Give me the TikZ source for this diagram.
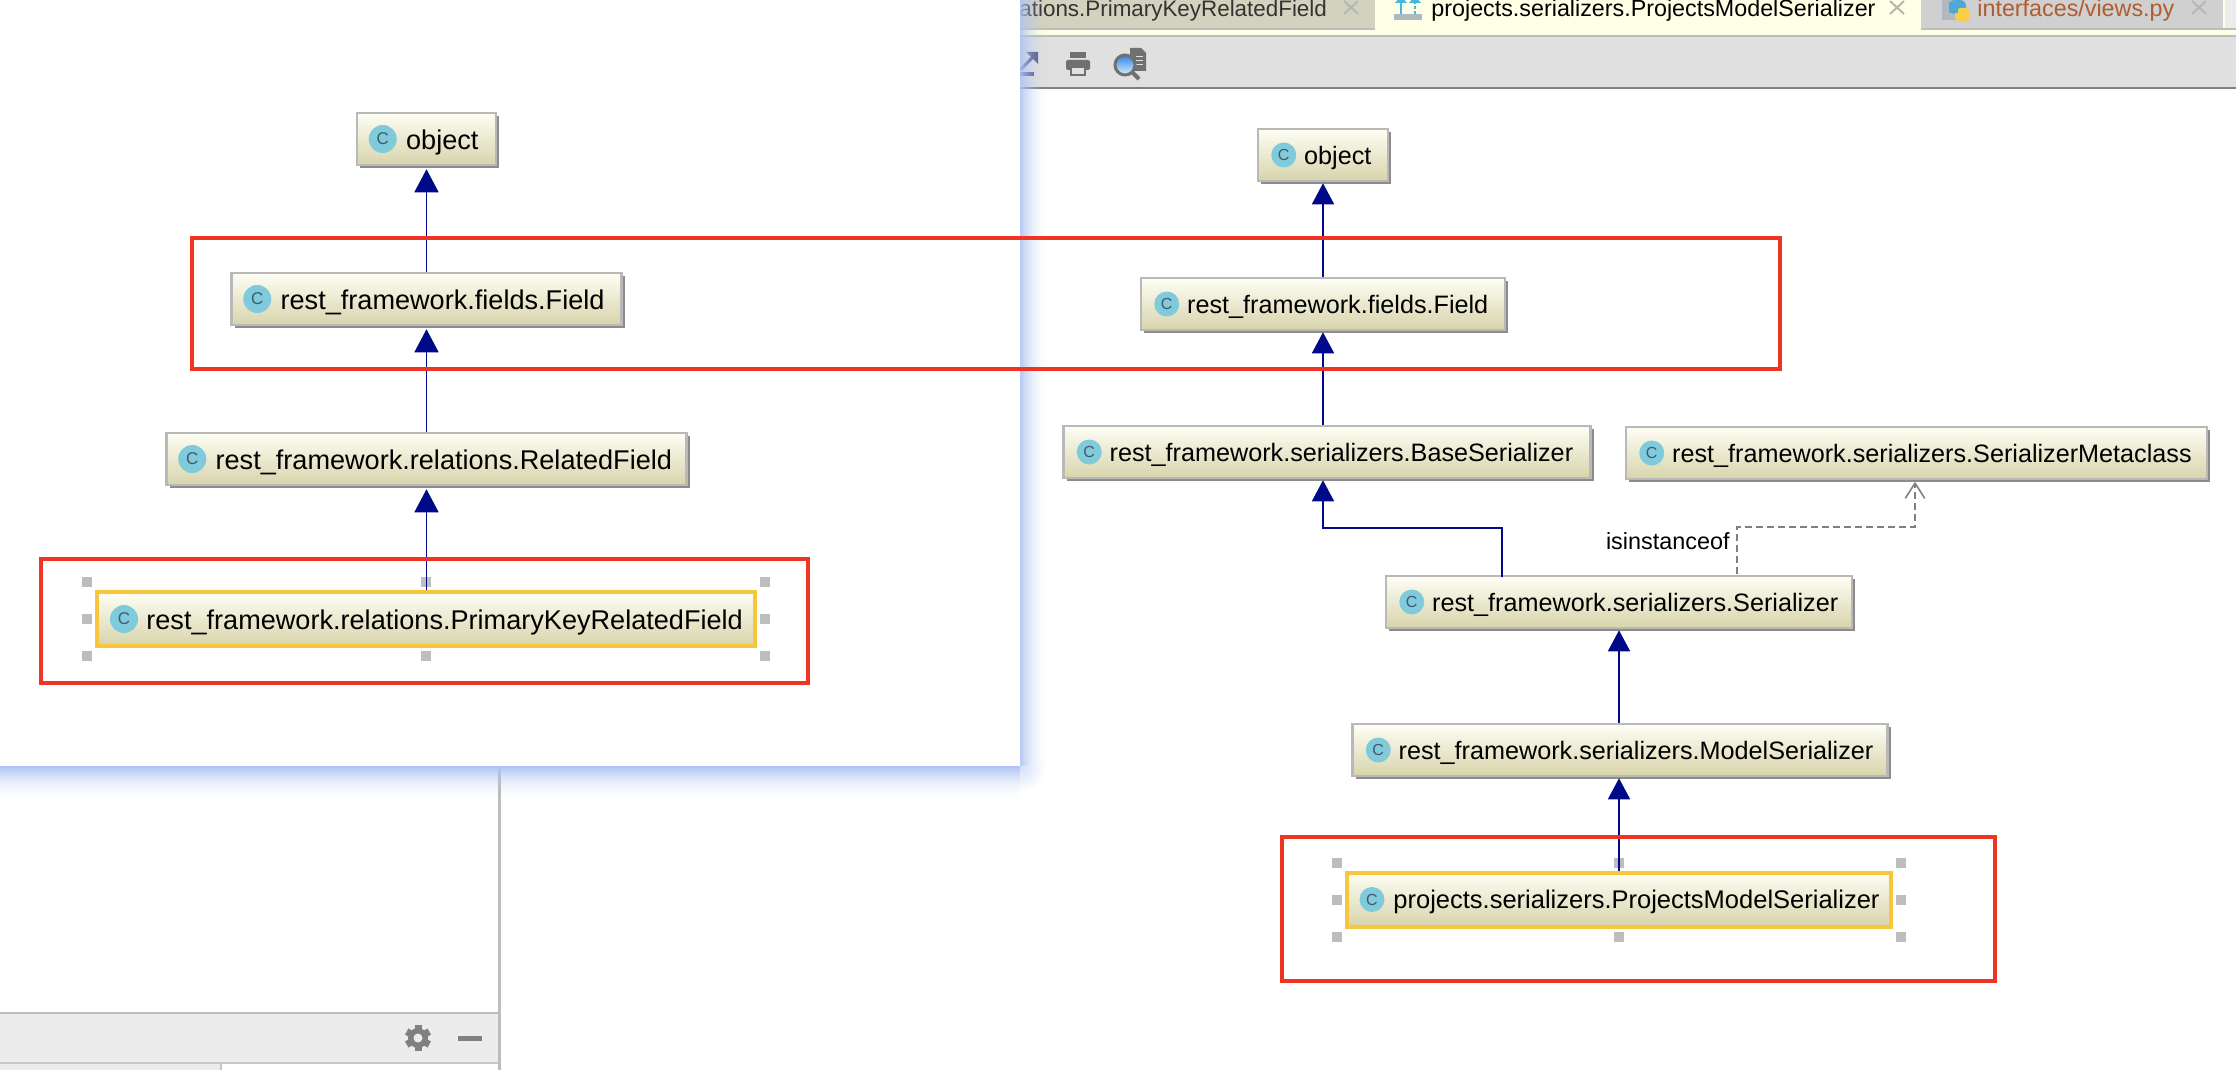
\documentclass[tikz,border=0pt]{standalone}
\usepackage{fontspec}
\setmainfont{Liberation Sans}
\usepackage{xcolor}
\usetikzlibrary{
  positioning,
  shadows,
  arrows.meta
}
\definecolor{boxedge}{HTML}{B9B9B9}
\definecolor{boxtop}{HTML}{FEFEF5}
\definecolor{boxbottom}{HTML}{D7D4AB}
\definecolor{boxshade}{HTML}{8C8C8C}
\definecolor{selyellow}{HTML}{F8C53C}
\definecolor{iconblue}{HTML}{7FCBDC}
\definecolor{iconink}{HTML}{43596A}
\definecolor{gripgray}{HTML}{BDBDBD}
\definecolor{inkblue}{HTML}{000A88}
\definecolor{markred}{HTML}{EE3524}
\definecolor{glowblue}{HTML}{AEC4F5}
\definecolor{tabolive}{HTML}{D2D2BE}
\definecolor{tabyellow}{HTML}{FFFFE5}
\definecolor{tabgray}{HTML}{D0D0D0}
\definecolor{barline}{HTML}{BDBDBD}
\definecolor{barfill}{HTML}{ECECEC}
\definecolor{toolfill}{HTML}{E0E0E0}
\definecolor{toolicon}{HTML}{707070}
\definecolor{closegray}{HTML}{B4B8B2}
\definecolor{pyrust}{HTML}{B05C30}
\definecolor{pyblue}{HTML}{4FA8D8}
\definecolor{pyyellow}{HTML}{FBCE48}
\definecolor{archblue}{HTML}{45B8E0}
\definecolor{archbar}{HTML}{AEB9C0}
\tikzset{
  classbox/.style={draw=boxedge,line width=1.25pt,top color=boxtop,bottom color=boxbottom,minimum height=26pt,inner sep=0pt,
    drop shadow={shadow xshift=1.5pt,shadow yshift=-1.5pt,fill=boxshade,opacity=1}},
  selbox/.style={draw=selyellow,line width=2pt,top color=boxtop,bottom color=boxbottom,minimum height=27pt,inner sep=0pt,outer sep=5pt},
  classicon/.style={circle,fill=iconblue,text=iconink,minimum size=14pt,inner sep=0pt,font=\fontsize{8.5}{9}\selectfont},
  rclassicon/.style={classicon,minimum size=12.5pt,font=\fontsize{8}{9}\selectfont},
  classname/.style={anchor=base west,inner sep=0pt,font=\fontsize{13.55}{14}\selectfont},
  rclassname/.style={classname,font=\fontsize{12.6}{14}\selectfont},
  grip/.style={fill=gripgray,minimum size=5pt,inner sep=0pt},
  inherit/.style={draw=inkblue,line width=0.8pt,-{Triangle[length=11.5pt,width=12pt,fill=inkblue]},shorten >=1.5pt},
  rinherit/.style={draw=inkblue,line width=0.8pt,-{Triangle[length=10.5pt,width=11pt,fill=inkblue]},shorten >=0.5pt},
  instance/.style={draw=gray,line width=0.8pt,dash pattern=on 3.5pt off 2pt,-{Straight Barb[length=7.5pt,width=9.5pt,round]},shorten >=1pt},
  markup/.style={draw=markred,line width=2pt},
  tabname/.style={anchor=base west,inner sep=0pt,font=\fontsize{11.65}{12}\selectfont},
  closex/.style={draw=closegray,line width=1pt}
}

\begin{document}
\begin{tikzpicture}[x=0.5pt,y=-0.5pt]
        \useasboundingbox (0,0) rectangle (2236,1070);
        \fill[white] (0,0) rectangle (2236,1070);

        \fill[tabyellow] (1020,0) rectangle (2236,36);
        \fill[tabolive] (1020,0) rectangle (1375,28);
        \fill[tabgray] (1921,0) rectangle (2223,28);
        \fill[barfill] (2225,0) rectangle (2236,28);
        \fill[barline] (1020,28) rectangle (1375,30);
        \fill[barline] (1921,28) rectangle (2236,30);
        \fill[toolfill] (1020,36) rectangle (2236,88);
        \fill[barline] (1020,35) rectangle (2236,37);
        \fill[gray] (1020,87) rectangle (2236,89);

        \node[tabname,text=black!80,font=\fontsize{11.2}{12}\selectfont] (tabpk) at (1019,17) {ations.PrimaryKeyRelatedField};
        \node[tabname] (tabproj) at (1431,17) {projects.serializers.ProjectsModelSerializer};
        \node[tabname,text=pyrust] (tabviews) at (1977,17) {interfaces/views.py};
        \foreach \cx in {1351,1897,2199} {
            \draw[closex] (\cx-7,1) -- (\cx+7,14);
            \draw[closex] (\cx-7,14) -- (\cx+7,1);
        }

        \fill[archbar] (1394,14) rectangle (1422,20);
        \draw[archblue,line width=1pt] (1401,14) -- (1401,2);
        \draw[archblue,line width=1pt,dash pattern=on 1.5pt off 1pt] (1415,14) -- (1415,2);
        \fill[archblue] (1395,3) -- (1401,-4) -- (1407,3) -- cycle;
        \fill[archblue] (1409,3) -- (1415,-4) -- (1421,3) -- cycle;

        \fill[archbar] (1942,0) rectangle (1956,20);
        \fill[pyblue,rounded corners=3pt] (1949,0) rectangle (1966,14);
        \fill[pyyellow,rounded corners=3pt] (1955,8) rectangle (1970,22);
        \fill[pyblue] (1949,2) rectangle (1958,13);

        \fill[toolicon!80!blue] (1026,52) -- (1038,52) -- (1038,64) -- cycle;
        \draw[toolicon!80!blue,line width=1.5pt] (1020,70) -- (1034,56);
        \fill[toolicon!80!blue] (1018,72) rectangle (1034,76);
        \fill[toolicon] (1070,52) rectangle (1086,58);
        \fill[toolicon,rounded corners=1pt] (1066,60) rectangle (1090,70);
        \draw[toolicon,line width=1pt,fill=toolfill] (1071,67) rectangle (1085,75);
        \fill[toolicon] (1130,48) -- (1141,48) -- (1146,53) -- (1146,71) -- (1130,71) -- cycle;
        \foreach \ly in {56,60,64} {
            \fill[toolfill] (1136,\ly) rectangle (1143,\ly+1.5);
        }
        \draw[toolicon,line width=1.5pt,top color=archblue!70!blue,bottom color=archblue!20] (1125,65) circle (10);
        \draw[toolicon,line width=2pt] (1132,72) -- (1139,79);

        \fill[barfill] (0,1013) rectangle (498,1063);
        \fill[barfill] (0,1063) rectangle (220,1070);
        \fill[barline] (0,1012) rectangle (498,1014);
        \fill[barline!85] (0,1062) rectangle (498,1064);
        \fill[barline!85] (220,1063) rectangle (222,1070);
        \fill[barline] (498,760) rectangle (501,1070);
        \foreach \ga in {0,60,120} {
            \fill[gray,rotate around={\ga:(418,1038)}] (414.5,1025) rectangle (421.5,1051);
        }
        \fill[gray] (418,1038) circle (10);
        \fill[barfill] (418,1038) circle (4.5);
        \fill[gray] (458,1036) rectangle (482,1041);

        \foreach \name/\cx/\cy/\w/\lbl in {
            robject/1323/155/65/object,
            rfield/1323/304/182/rest\_framework.fields.Field,
            rbase/1327/452/263.5/rest\_framework.serializers.BaseSerializer,
            rmeta/1916.5/453/290.5/rest\_framework.serializers.SerializerMetaclass,
            rserial/1619/602/233/rest\_framework.serializers.Serializer,
            rmodel/1620/750/267.5/rest\_framework.serializers.ModelSerializer} {
            \node[classbox,minimum width=\w pt] (\name) at (\cx,\cy) {};
            \node[rclassicon] (\name icon) at ([xshift=13.5pt]\name.west) {C};
            \node[rclassname] (\name text) at ([xshift=23.5pt,yshift=-4.5pt]\name.west) {\lbl};
        }
        \node[selbox,minimum width=272pt] (rproj) at (1619,899.5) {};
        \node[rclassicon] (rprojicon) at ([xshift=17.5pt]rproj.west) {C};
        \node[rclassname,font=\fontsize{12.75}{14}\selectfont] (rprojtext) at ([xshift=28pt,yshift=-4.5pt]rproj.west) {projects.serializers.ProjectsModelSerializer};

        \fill[white] (0,0) rectangle (1020,766);
        \foreach \i in {0,...,13} {
            \fill[glowblue,opacity={0.85*(1-\i/14)^2}] (1020+2*\i,0) rectangle (1022+2*\i,766);
        }
        \foreach \i in {0,...,16} {
            \fill[glowblue,opacity={(1-\i/17)^2}] (0,766+2*\i) rectangle (1020,768+2*\i);
        }
        \begin{scope}
            \clip (1020,766) rectangle (1050,800);
            \shade[inner color=glowblue!55,outer color=white] (1020,766) circle (26);
        \end{scope}

        \foreach \name/\cx/\cy/\w/\lbl in {
            lobject/426.5/139/69.5/object,
            lfield/426.5/299/195/rest\_framework.fields.Field,
            lrelated/426.5/459/260/rest\_framework.relations.RelatedField} {
            \node[classbox,minimum width=\w pt] (\name) at (\cx,\cy) {};
            \node[classicon] (\name icon) at ([xshift=13.5pt]\name.west) {C};
            \node[classname] (\name text) at ([xshift=25pt,yshift=-5pt]\name.west) {\lbl};
        }
        \node[selbox,minimum width=329pt] (lpk) at (426,619) {};
        \node[classicon] (lpkicon) at ([xshift=18.5pt]lpk.west) {C};
        \node[classname] (lpktext) at ([xshift=29.5pt,yshift=-5pt]lpk.west) {rest\_framework.relations.PrimaryKeyRelatedField};

        \foreach \sel in {lpk,rproj} {
            \foreach \a in {north west,north,north east,west,east,south west,south,south east} {
                \node[grip] at (\sel.\a) {};
            }
        }

        \draw[inherit] (lfield.north) -- (lobject.south);
        \draw[inherit] (lrelated.north) -- (lfield.south);
        \draw[inherit,shorten <=-4pt] (lpk.north -| lrelated) -- (lrelated.south);

        \draw[rinherit] (rfield.north) -- (robject.south);
        \coordinate (serbase) at (1502,577);
        \coordinate (baseturn) at (1323,528);
        \draw[rinherit] (serbase) |- (baseturn) -- (baseturn |- rbase.south);
        \draw[rinherit] (rbase.north -| rfield) -- (rfield.south);
        \draw[rinherit] (rmodel.north -| rserial) -- (rserial.south);
        \draw[rinherit,shorten <=-4pt] (rproj.north) -- (rmodel.south -| rproj);
        \coordinate (serinst) at (1737,574);
        \coordinate (metaturn) at (1915,527);
        \draw[instance] (serinst) |- (metaturn) -- (metaturn |- rmeta.south);
        \node[anchor=base east,inner sep=0pt,font=\fontsize{11.7}{12}\selectfont] (instlabel) at (1730,549) {isinstanceof};

        \draw[markup] (192,238) rectangle (1780,369);
        \draw[markup] (41,559) rectangle (808,683);
        \draw[markup] (1282,837) rectangle (1995,981);
    \end{tikzpicture}
\end{document}
